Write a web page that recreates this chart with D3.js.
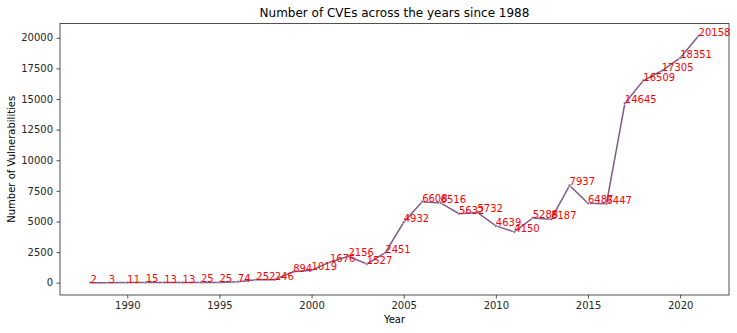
<!DOCTYPE html>
<html>
<head>
<meta charset="utf-8">
<script src="https://cdn.jsdelivr.net/npm/d3@7"></script>
<style>
  html, body { margin: 0; padding: 0; background: #fff; }
  svg text { font-family: "DejaVu Sans", sans-serif; }
</style>
</head>
<body>
<svg id="chart" width="737" height="333"></svg>
<script>
// CVE counts per year
const years = [1988, 1989, 1990, 1991, 1992, 1993, 1994, 1995, 1996, 1997, 1998,
  1999, 2000, 2001, 2002, 2003, 2004, 2005, 2006, 2007, 2008, 2009, 2010, 2011,
  2012, 2013, 2014, 2015, 2016, 2017, 2018, 2019, 2020, 2021];
const counts = [2, 3, 11, 15, 13, 13, 25, 25, 74, 252, 246,
  894, 1019, 1676, 2156, 1527, 2451, 4932, 6608, 6516, 5632, 5732, 4639, 4150,
  5288, 5187, 7937, 6487, 6447, 14645, 16509, 17305, 18351, 20158];
const xTicks = [1990, 1995, 2000, 2005, 2010, 2015, 2020];
const yTicks = [0, 2500, 5000, 7500, 10000, 12500, 15000, 17500, 20000];

const data = years.map((y, i) => ({ year: y, value: counts[i] }));

const svg = d3.select("#chart");
const m = { left: 60, right: 8, top: 23.5, bottom: 38 };
const W = 737, H = 333;
const x0 = m.left, x1 = W - m.right, y0 = H - m.bottom, y1 = m.top;

// 5% padding on both axes
const xExt = d3.extent(years), xPad = (xExt[1] - xExt[0]) * 0.05;
const yExt = d3.extent(counts), yPad = (yExt[1] - yExt[0]) * 0.05;
const x = d3.scaleLinear().domain([xExt[0] - xPad, xExt[1] + xPad]).range([x0, x1]);
const y = d3.scaleLinear().domain([yExt[0] - yPad, yExt[1] + yPad]).range([y0, y1]);

const ink = "#262626";

// axes
const xAxis = svg.append("g").attr("transform", `translate(0,${y0})`)
  .call(d3.axisBottom(x).tickValues(xTicks).tickFormat(d3.format("d")).tickSize(3.5).tickPadding(3.5));
const yAxis = svg.append("g").attr("transform", `translate(${x0},0)`)
  .call(d3.axisLeft(y).tickValues(yTicks).tickFormat(d3.format("d")).tickSize(3.5).tickPadding(3.5));
[xAxis, yAxis].forEach(g => {
  g.select(".domain").remove();
  g.selectAll("line").attr("stroke", ink).attr("stroke-width", 0.8);
  g.selectAll("text").attr("fill", ink).style("font-size", "10px");
});

// frame
svg.append("rect").attr("x", x0).attr("y", y1).attr("width", x1 - x0).attr("height", y0 - y1)
  .attr("fill", "none").attr("stroke", ink).attr("stroke-width", 0.8);

// line
const line = d3.line().x(d => x(d.year)).y(d => y(d.value));
svg.append("path").datum(data).attr("d", line)
  .attr("fill", "none").attr("stroke", "#805a88").attr("stroke-width", 1.5);

// point markers
svg.append("g").selectAll("circle").data(data).join("circle")
  .attr("cx", d => x(d.year)).attr("cy", d => y(d.value)).attr("r", 1.4)
  .attr("fill", "#805a88").attr("stroke", "#fff").attr("stroke-width", 0.6);

// value labels
svg.append("g").selectAll("text").data(data).join("text")
  .attr("x", d => x(d.year)).attr("y", d => y(d.value))
  .attr("fill", "red").style("font-size", "10px")
  .text(d => d.value);

// titles
svg.append("text").attr("x", (x0 + x1) / 2).attr("y", 17).attr("text-anchor", "middle")
  .attr("fill", "#000").style("font-size", "12px").text("Number of CVEs across the years since 1988");
svg.append("text").attr("x", (x0 + x1) / 2).attr("y", 323).attr("text-anchor", "middle")
  .attr("fill", "#000").style("font-size", "10px").text("Year");
svg.append("text").attr("transform", `translate(15,${(y0 + y1) / 2}) rotate(-90)`)
  .attr("text-anchor", "middle").attr("fill", "#000").style("font-size", "10px")
  .text("Number of Vulnerabilities");
</script>
</body>
</html>
